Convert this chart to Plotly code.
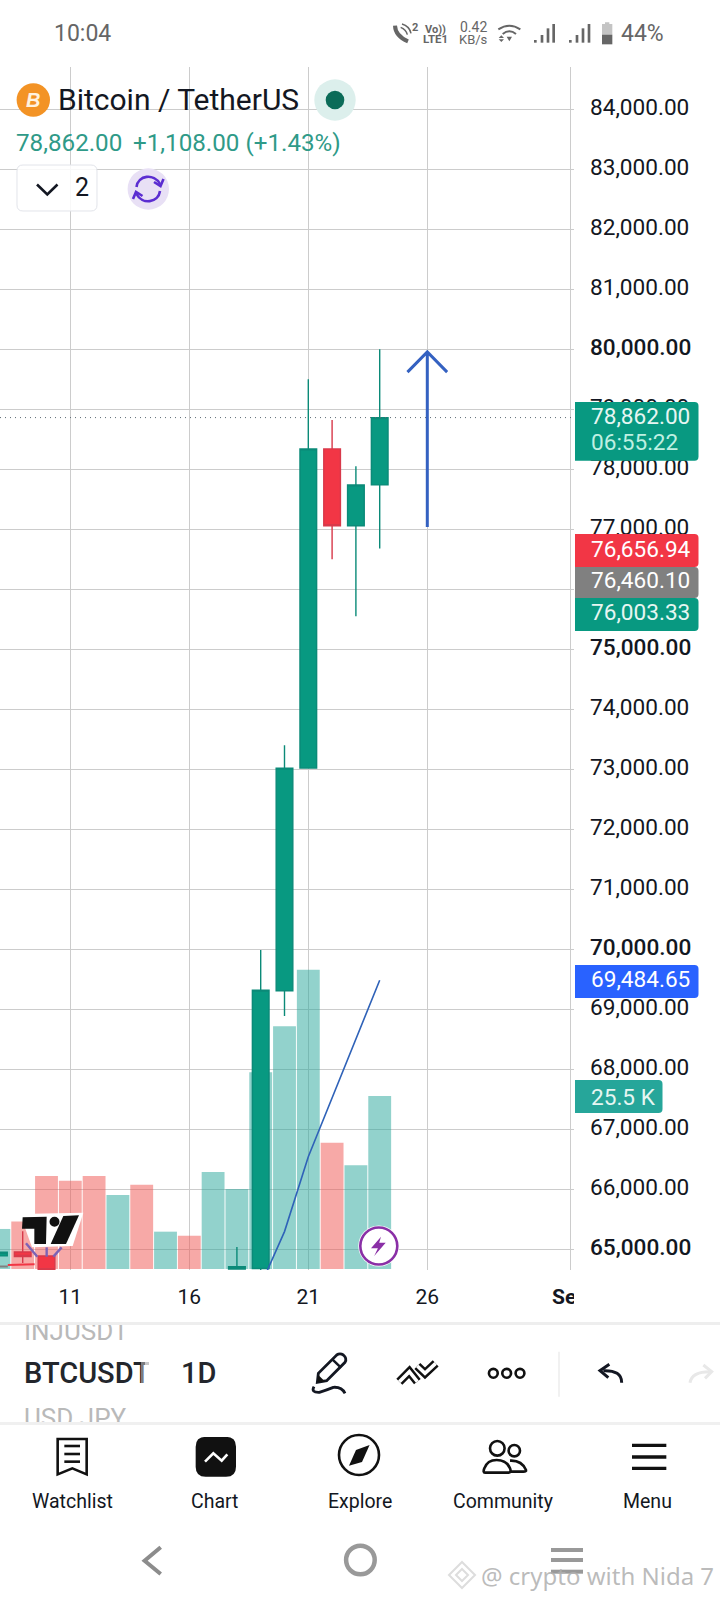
import plotly.graph_objects as go

# ---------- data ----------
candle_days = ["2024-08-08", "2024-08-09", "2024-08-10", "2024-08-18", "2024-08-19",
               "2024-08-20", "2024-08-21", "2024-08-22", "2024-08-23", "2024-08-24"]
candle_open = [64890, 64955, 64888, 64670, 64680, 69310, 73020, 78340, 77060, 77740]
candle_high = [64950, 65300, 64888, 65040, 69990, 73400, 79500, 78820, 78050, 80000]
candle_low = [64890, 64770, 64660, 64660, 64650, 68890, 73020, 76500, 75550, 76680]
candle_close = [64950, 64880, 64660, 64710, 69320, 73020, 78340, 77060, 77740, 78862]

volume_days = ["2024-08-08", "2024-08-09", "2024-08-10", "2024-08-11", "2024-08-12", "2024-08-13",
               "2024-08-14", "2024-08-15", "2024-08-16", "2024-08-17", "2024-08-18", "2024-08-19",
               "2024-08-20", "2024-08-21", "2024-08-22", "2024-08-23", "2024-08-24"]
volume_k = [5.9, 7.0, 13.7, 13.0, 13.7, 10.9, 12.4, 5.5, 4.9, 14.3, 11.8, 29.0, 35.8, 44.1, 18.6, 15.3, 25.5]
volume_up = [True, False, False, False, False, True, False, True, False, True, True, True, True, True, False, True, True]

ma_days = ["2024-08-19", "2024-08-20", "2024-08-21", "2024-08-22", "2024-08-23", "2024-08-24"]
ma_values = [64400, 65295, 66544, 67520, 68520, 69484.65]

arrow_days = ["2024-08-26", "2024-08-26", "2024-08-25 04:00", "2024-08-26", "2024-08-26 20:00"]
arrow_prices = [77040, 79955, 79620, 79955, 79620]

flat_gray_days = ["2024-08-07", "2024-08-08 09:00"]
flat_gray_prices = [64715, 64715]
flat_red_days = ["2024-08-08 09:00", "2024-08-09 12:00"]
flat_red_prices = [64740, 64750]

last_price = 78862
date_ticks = ["2024-08-11", "2024-08-16", "2024-08-21", "2024-08-26", "2024-09-01"]
date_labels = ["11", "16", "21", "26", "<b>Sep</b>"]
price_ticks = list(range(65000, 85000, 1000))
price_labels = [f'<span style="font-weight:500">{p:,.2f}</span>' if p % 5000 == 0 else f"{p:,.2f}" for p in price_ticks]

# ---------- page geometry ----------
W, H = 720, 1600
TOP, BOTTOM, RIGHT = 67, 1270, 574
GREEN, RED, INK = "#089981", "#f23645", "#131722"
GRID = "#cccccc"
GRAY = "#666666"
TAG_SIZE = 22.6
PRICE_RANGE = [64655, 84705]
LABEL_LIFT = 33  # price labels sit about 2 px above their grid lines


def fx(x):
    return x / W


def fy(y):
    return 1 - y / H


shapes, notes = [], []


def P(d, ox=0, oy=0, k=1):
    out, isx = [], True
    for t in d.split():
        if t.isalpha():
            out.append(t)
            isx = True
        else:
            v = float(t)
            out.append(f"{fx(ox + v * k):.5f}" if isx else f"{fy(oy + v * k):.5f}")
            isx = not isx
    return " ".join(out)


def path(d, ox=0, oy=0, k=1, color=INK, width=2.5, fill=None):
    shapes.append(dict(type="path", xref="paper", yref="paper", layer="above", path=P(d, ox, oy, k),
                       line=dict(color=color, width=width), fillcolor=fill or "rgba(0,0,0,0)"))


def solid(d, fill, ox=0, oy=0, k=1):
    shapes.append(dict(type="path", xref="paper", yref="paper", layer="above", path=P(d, ox, oy, k),
                       line=dict(width=0), fillcolor=fill))


def circle(cx, cy, r, fill=None, color=None, width=0):
    shapes.append(dict(type="circle", xref="paper", yref="paper", layer="above",
                       x0=fx(cx - r), x1=fx(cx + r), y0=fy(cy + r), y1=fy(cy - r),
                       line=dict(color=color or "rgba(0,0,0,0)", width=width),
                       fillcolor=fill or "rgba(0,0,0,0)"))


def tag(x1, y0, y1, fill):
    x0, r = 575, 4
    solid(f"M {x0} {y0} L {x1 - r} {y0} Q {x1} {y0} {x1} {y0 + r} L {x1} {y1 - r} Q {x1} {y1} {x1 - r} {y1} L {x0} {y1} Z", fill)


def note(x, y, text, size=22, color=INK, anchor="left", weight=None, family="Roboto"):
    font = dict(family=family, size=size, color=color)
    if weight:
        font["weight"] = weight
    notes.append(dict(xref="paper", yref="paper", x=fx(x), y=fy(y), text=text, showarrow=False,
                      xanchor=anchor, yanchor="middle", borderpad=0, borderwidth=0, font=font))


def cover(x0, y0, x1, y1, fill="#ffffff"):
    notes.append(dict(xref="paper", yref="paper", x=fx(x0), y=fy(y0), text="&nbsp;", showarrow=False,
                      xanchor="left", yanchor="top", width=x1 - x0, height=y1 - y0, borderpad=0, borderwidth=0,
                      bgcolor=fill, font=dict(size=1)))


# ---------- marks ----------
fig = go.Figure()
fig.add_trace(go.Bar(
    x=volume_days, y=volume_k, yaxis="y", name="Volume",
    marker=dict(color=["rgba(38,166,154,0.5)" if u else "rgba(239,83,80,0.5)" for u in volume_up], line=dict(width=0)),
    hoverinfo="skip"))
fig.add_trace(go.Scatter(x=ma_days, y=ma_values, yaxis="y2", mode="lines", line=dict(color="#2f62b8", width=1.6), hoverinfo="skip"))
fig.add_trace(go.Scatter(x=flat_gray_days, y=flat_gray_prices, yaxis="y2", mode="lines", line=dict(color="#808080", width=2), hoverinfo="skip"))
fig.add_trace(go.Scatter(x=flat_red_days, y=flat_red_prices, yaxis="y2", mode="lines", line=dict(color=RED, width=2), hoverinfo="skip"))
fig.add_trace(go.Candlestick(
    x=candle_days, open=candle_open, high=candle_high, low=candle_low, close=candle_close, yaxis="y2",
    increasing=dict(line=dict(color="#0b8a78", width=1.4), fillcolor=GREEN),
    decreasing=dict(line=dict(color="#d8394a", width=1.4), fillcolor=RED),
    whiskerwidth=0, hoverinfo="skip"))
fig.add_trace(go.Scatter(x=arrow_days, y=arrow_prices, yaxis="y2", mode="lines", line=dict(color="#3461c1", width=3), hoverinfo="skip"))
# carries the label-only price axis
fig.add_trace(go.Scatter(x=[candle_days[-1]], y=[last_price], yaxis="y3", mode="markers", marker=dict(opacity=0), hoverinfo="skip"))

shapes.append(dict(type="line", xref="paper", yref="y2", x0=0, x1=fx(571), y0=last_price, y1=last_price,
                   line=dict(color="#5d6b73", width=1, dash="1px,4px"), layer="above"))

# ---------- price tags ----------
tag(698.5, 402, 460.7, GREEN)
note(590.5, 416, "78,862.00", TAG_SIZE, "#e6f6f2")
note(590.5, 442, "06:55:22", TAG_SIZE, "#bff0e2")
tag(698.5, 534, 567, RED)
note(590.5, 549, "76,656.94", TAG_SIZE, "#ffffff")
tag(698.5, 567, 598, "#808080")
note(590.5, 580.5, "76,460.10", TAG_SIZE, "#ffffff")
tag(698.5, 598, 631, GREEN)
note(590.5, 612, "76,003.33", TAG_SIZE, "#e6f6f2")
tag(698.5, 965, 998, "#2962ff")
note(590.5, 979.5, "69,484.65", TAG_SIZE, "#ffffff")
tag(662.5, 1080, 1113, "#26a69a")
note(590.5, 1097, "25.5 K", TAG_SIZE, "#e6f6f2")

# ---------- status bar ----------
note(54, 33, "10:04", 23, GRAY)
note(621, 34, "44%", 23, GRAY)
Z5 = dict(ox=380, oy=10, k=1 / 3)
path("M 45 47 Q 46 78 84 94", color=GRAY, width=4, **Z5)
path("M 62 52 Q 78 58 82 74", color=GRAY, width=1.5, **Z5)
path("M 66 42 Q 88 48 93 70", color=GRAY, width=1.5, **Z5)
note(415, 27.5, "<b>2</b>", 11, GRAY, "center")
note(435, 29.3, "<b>Vo))</b>", 11, GRAY, "center")
note(435, 39.5, "<b>LTE1</b>", 11.5, GRAY, "center")
note(473.5, 26.7, "0.42", 14, GRAY, "center")
note(473.5, 39.5, "KB/s", 13, GRAY, "center")
path("M 355 58 Q 388 36 421 58", color=GRAY, width=2, **Z5)
path("M 368 72 Q 388 56 408 72", color=GRAY, width=2, **Z5)
solid("M 356 84 L 372 84 L 364 76 Z", GRAY, **Z5)
solid("M 380 80 L 396 80 L 388 94 Z", GRAY, **Z5)
solid("M 356 88 L 372 88 L 364 96 Z", GRAY, **Z5)
for x0, top in [(462, 90), (482, 75), (500, 55), (517, 42), (567, 90), (587, 75), (605, 55), (623, 42)]:
    solid(f"M {x0} {top} L {x0 + 8} {top} L {x0 + 8} 98 L {x0} 98 Z", GRAY, **Z5)
solid("M 675 37 L 688 37 L 688 42 L 697 42 L 697 74 L 666 74 L 666 42 L 675 42 Z", "#c4c4c4", **Z5)
solid("M 666 74 L 697 74 L 697 103 L 666 103 Z", GRAY, **Z5)

# ---------- symbol header ----------
circle(33.3, 100, 16.7, "#f39325")
note(33.3, 100.5, "<b><i>B</i></b>", 20, "#fff3e0", "center", family="Liberation Sans")
note(58.2, 99, "Bitcoin / TetherUS", 30, INK)
circle(335, 100, 20.7, "#dcefec")
circle(335, 100, 9.3, "#0b6b58")
note(15.5, 142.5, "78,862.00", 24.2, "#2f9a88")
note(133, 142.5, "+1,108.00 (+1.43%)", 24.2, "#2f9a88")
solid("M 23 165 L 91 165 Q 97 165 97 171 L 97 205 Q 97 211 91 211 L 23 211 Q 17 211 17 205 L 17 171 Q 17 165 23 165 Z", "rgba(255,255,255,0.85)")
path("M 23 165 L 91 165 Q 97 165 97 171 L 97 205 Q 97 211 91 211 L 23 211 Q 17 211 17 205 L 17 171 Q 17 165 23 165 Z", color="#e2e4ea", width=1)
path("M 37 184.5 L 47.3 194.5 L 57.5 184.5", color=INK, width=2.6)
note(82, 187.5, "2", 25, INK, "center")
circle(148.3, 189, 20.7, "#e8e0f5")
path("M 136.5 187 C 138 175 154 173 160 184", color="#5b2dd1", width=2.6)
path("M 163.5 179 L 160.5 186 L 154 182", color="#5b2dd1", width=2.6)
path("M 160 191 C 158.5 203 142 205 136.5 194", color="#5b2dd1", width=2.6)
path("M 133 199 L 136 192 L 142.5 196", color="#5b2dd1", width=2.6)

# ---------- TradingView mark and lightning button over the chart ----------
Z7 = dict(ox=0, oy=1200, k=1 / 3)
solid("M 60 42 L 250 38 L 218 138 L 96 142 Z", "#ffffff", **Z7)
solid("M 68 52 L 140 50 L 138 132 L 103 132 L 103 86 L 66 86 Z", "#111111", **Z7)
solid("M 190 48 L 237 46 L 198 132 L 152 132 Z", "#111111", **Z7)
circle(54.5, 1221.7, 5, "#111111")
path("M 78 130 L 112 170", color="#7c62b6", width=2.4, **Z7)
path("M 140 142 L 140 170", color="#7c62b6", width=2.4, **Z7)
path("M 185 142 L 160 170", color="#7c62b6", width=2.4, **Z7)
circle(378.8, 1246, 20.5, "#ffffff")
circle(378.8, 1246, 18.5, "#ffffff", "#8a2fa6", 2.6)
solid("M 381 1236.7 L 371 1248.3 L 377.9 1248.3 L 374.2 1256 L 385.7 1242.7 L 379.2 1242.7 Z", "#8a2fa6")

# ---------- toolbar ----------
note(24, 1331, "INJUSDT", 26, "#b9b9b9")
note(24, 1418, "USD JPY", 26, "#b9b9b9")
note(23.5, 1373, "BTCUSDT", 29, "#23262c", weight=500)
cover(141, 1355, 145, 1392, "rgba(255,255,255,0.4)")
cover(145, 1355, 149, 1392, "rgba(255,255,255,0.75)")
cover(149, 1355, 172, 1392)
note(181, 1373, "1D", 29, "#23262c", weight=500)
cover(0, 1308, 300, 1322)
cover(0, 1322, 720, 1325, "#eeeeee")
cover(0, 1422, 720, 1424.5, "#f0f0f0")
cover(0, 1424.5, 300, 1436)
Z8 = dict(ox=290, oy=1330, k=1 / 3)
path("M 82 157 L 85 130 L 140 75 Q 150 68 160 75 Q 172 85 165 97 L 110 152 Z", width=2.8, **Z8)
path("M 127 88 L 153 113", width=2.5, **Z8)
solid("M 82 157 L 84 134 L 106 155 Z", "#111111", **Z8)
path("M 72 170 Q 62 188 88 187 Q 110 180 130 172 Q 155 170 165 190", width=2.8, **Z8)
path("M 328 155 L 358 125 L 382 155", color="#111111", width=8.5, **Z8)
path("M 328 155 L 358 125 L 382 155", color="#ffffff", width=3.6, **Z8)
path("M 382 108 L 405 130 L 437 100", color="#111111", width=8.5, **Z8)
path("M 382 108 L 405 130 L 437 100", color="#ffffff", width=3.6, **Z8)
for px in (610, 650, 690):
    circle(290 + px / 3, 1373.3, 4.4, None, "#111111", 2.6)
path("M 807 65 L 807 200", color="#ececec", width=1.5, **Z8)
path("M 995 158 Q 995 120 940 122", width=3, **Z8)
path("M 958 103 L 930 122 L 955 143", width=3, **Z8)
path("M 1200 158 Q 1205 125 1260 125", color="#e8e8e8", width=3, **Z8)
path("M 1240 105 L 1265 125 L 1245 145", color="#e8e8e8", width=3, **Z8)

# ---------- bottom navigation ----------
Z9 = dict(ox=30, oy=1420, k=1 / 3)
path("M 83 57 L 170 57 L 170 163 L 127 145 L 83 163 Z", width=2.6, color="#111111", **Z9)
for y in (78, 102, 125):
    path(f"M 103 {y} L 150 {y}", width=2.6, color="#111111", **Z9)
solid("M 527 50 L 588 50 Q 618 50 618 80 L 618 140 Q 618 170 588 170 L 527 170 Q 497 170 497 140 L 497 80 Q 497 50 527 50 Z", "#111111", **Z9)
path("M 525 125 L 550 100 L 575 122 L 592 103", color="#ffffff", width=2.6, **Z9)
circle(359, 1455, 20, None, "#111111", 2.6)
solid("M 369.6 1445 L 362 1462 L 349 1465.7 L 356 1450 Z", "#111111")
Z10 = dict(ox=430, oy=1420, k=1 / 3)
circle(497.3, 1448.3, 7.3, None, "#111111", 2.6)
circle(514.3, 1450.7, 5.7, None, "#111111", 2.6)
path("M 165 158 L 235 158 Q 245 158 240 145 Q 230 120 200 120 Q 172 120 163 145 Q 158 158 165 158 Z", color="#111111", width=2.6, **Z10)
path("M 240 122 Q 275 120 288 150 Q 290 155 280 155 L 243 155", color="#111111", width=2.6, **Z10)
for y in (76, 111, 145):
    path(f"M 606 {y} L 709 {y}", color="#111111", width=3.4, **Z10)
for cx, label in [(72, "Watchlist"), (215, "Chart"), (359.5, "Explore"), (503, "Community"), (647.5, "Menu")]:
    note(cx, 1501.5, label, 19.5, INK, "center")

# ---------- android keys and watermark ----------
path("M 160.7 1547.3 L 144.6 1560.7 L 160.7 1574", color="#8c8c8c", width=4)
circle(360.4, 1560, 14.3, None, "#999999", 4.5)
for y in (1550, 1560, 1571.7):
    path(f"M 551 {y} L 583 {y}", color="#999999", width=4)
path("M 462 1562 L 475 1575 L 462 1588 L 449 1575 Z", color="#dddddd", width=2)
path("M 462 1569 L 468 1575 L 462 1581 L 456 1575 Z", color="#dddddd", width=2)
note(481, 1575, "@ crypto with Nida 7", 24, "rgba(175,175,175,0.85)", family="Noto Sans")

# the "Sep" date label is cut by the price pane
cover(574, 1280, 600, 1315)

fig.update_layout(
    width=W, height=H, autosize=False, margin=dict(l=0, r=0, t=0, b=0, autoexpand=False),
    paper_bgcolor="#ffffff", plot_bgcolor="#ffffff", showlegend=False,
    bargap=0.04, boxgap=0, dragmode=False, shapes=shapes, annotations=notes,
    font=dict(family="Roboto", color=INK),
    xaxis=dict(domain=[0, fx(RIGHT)], type="date", range=["2024-08-08 01:06", "2024-09-01 03:56"],
               tickmode="array", tickvals=date_ticks, ticktext=date_labels, ticks="", ticklabelstandoff=12,
               showgrid=True, gridcolor=GRID, gridwidth=1, zeroline=False, showline=False,
               tickfont=dict(family="Roboto", size=21, color=INK), rangeslider=dict(visible=False), fixedrange=True),
    yaxis=dict(domain=[fy(BOTTOM), fy(TOP)], range=[-0.15, 177.2], visible=False, fixedrange=True),
    yaxis2=dict(domain=[fy(BOTTOM), fy(TOP)], overlaying="y", side="right", anchor="x", range=PRICE_RANGE,
                tickmode="array", tickvals=price_ticks, showticklabels=False, ticks="",
                showgrid=True, gridcolor=GRID, gridwidth=1, zeroline=False, showline=False, fixedrange=True),
    yaxis3=dict(domain=[fy(BOTTOM), fy(TOP)], overlaying="y", side="right", anchor="x",
                range=[PRICE_RANGE[0] - LABEL_LIFT, PRICE_RANGE[1] - LABEL_LIFT],
                tickmode="array", tickvals=price_ticks, ticktext=price_labels, ticks="", ticklabelstandoff=15,
                showgrid=False, zeroline=False, showline=False,
                tickfont=dict(family="Roboto", size=22.6, color=INK), fixedrange=True),
)

fig.write_html("out.html", config={"displayModeBar": False}, post_script="document.body.style.margin='0';")
